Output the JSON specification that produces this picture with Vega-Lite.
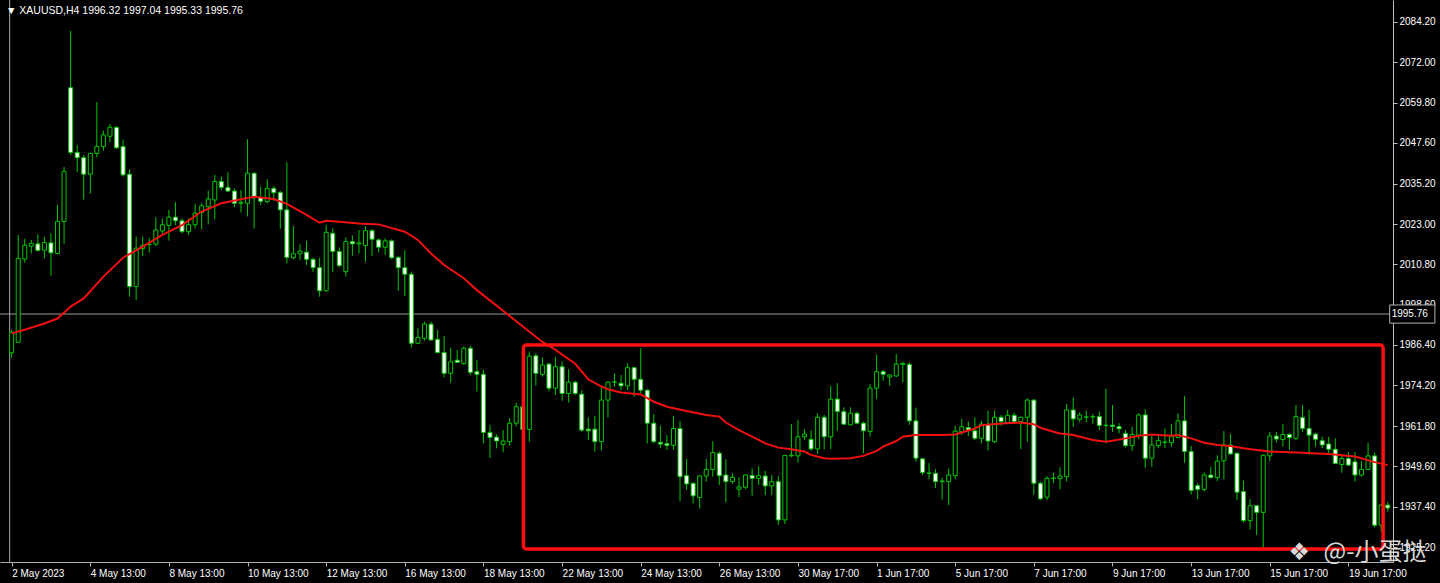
{
"$schema": "https://vega.github.io/schema/vega-lite/v6.json",
"width": 1393, "height": 562,
"autosize": {"type": "none"},
"padding": {"left": 0, "top": 0, "right": 47, "bottom": 21},
"background": "#000000",
"config": {"view": {"stroke": null}, "font": "Liberation Sans"},
"title": {"text": "▼ XAUUSD,H4  1996.32 1997.04 1995.33 1995.76", "anchor": "start", "frame": "group", "color": "#ffffff", "fontSize": 10.5, "fontWeight": "normal", "font": "Liberation Sans", "offset": 0, "dx": 6, "dy": 25, "baseline": "alphabetic"},
"datasets": {
"c": [
{"i":0,"o":1984.0,"h":1991.0,"l":1982.5,"c":1990.2},
{"i":1,"o":1987.2,"h":2019.7,"l":1987.0,"c":2012.6},
{"i":2,"o":2012.4,"h":2018.5,"l":2011.3,"c":2016.6},
{"i":3,"o":2016.3,"h":2018.2,"l":2014.1,"c":2017.1},
{"i":4,"o":2017.0,"h":2019.9,"l":2014.7,"c":2015.0},
{"i":5,"o":2015.1,"h":2019.1,"l":2012.6,"c":2017.4},
{"i":6,"o":2017.3,"h":2020.2,"l":2007.4,"c":2014.3},
{"i":7,"o":2014.1,"h":2028.8,"l":2013.8,"c":2023.8},
{"i":8,"o":2023.8,"h":2040.3,"l":2017.0,"c":2039.0},
{"i":9,"o":2064.3,"h":2081.5,"l":2043.9,"c":2044.7},
{"i":10,"o":2044.7,"h":2046.9,"l":2038.7,"c":2043.1},
{"i":11,"o":2043.1,"h":2043.9,"l":2030.4,"c":2038.1},
{"i":12,"o":2038.1,"h":2044.6,"l":2032.2,"c":2044.4},
{"i":13,"o":2044.4,"h":2059.9,"l":2043.2,"c":2046.5},
{"i":14,"o":2046.5,"h":2051.3,"l":2045.2,"c":2050.0},
{"i":15,"o":2049.6,"h":2053.3,"l":2047.8,"c":2052.3},
{"i":16,"o":2052.3,"h":2052.6,"l":2045.8,"c":2046.1},
{"i":17,"o":2046.5,"h":2048.6,"l":2037.4,"c":2037.9},
{"i":18,"o":2038.1,"h":2039.6,"l":2001.0,"c":2004.1},
{"i":19,"o":2004.1,"h":2019.2,"l":2000.0,"c":2015.7},
{"i":20,"o":2015.6,"h":2019.2,"l":2013.3,"c":2016.6},
{"i":21,"o":2016.8,"h":2018.8,"l":2014.4,"c":2016.9},
{"i":22,"o":2016.9,"h":2025.1,"l":2016.4,"c":2021.2},
{"i":23,"o":2020.9,"h":2024.6,"l":2020.0,"c":2022.8},
{"i":24,"o":2022.6,"h":2027.3,"l":2018.0,"c":2025.1},
{"i":25,"o":2025.1,"h":2029.6,"l":2022.7,"c":2024.0},
{"i":26,"o":2024.0,"h":2024.7,"l":2020.2,"c":2020.7},
{"i":27,"o":2020.7,"h":2024.7,"l":2019.7,"c":2022.8},
{"i":28,"o":2022.8,"h":2029.1,"l":2021.7,"c":2026.3},
{"i":29,"o":2026.5,"h":2029.3,"l":2021.4,"c":2028.5},
{"i":30,"o":2028.3,"h":2033.1,"l":2022.9,"c":2030.6},
{"i":31,"o":2030.3,"h":2037.9,"l":2024.4,"c":2035.9},
{"i":32,"o":2035.9,"h":2037.4,"l":2033.3,"c":2034.1},
{"i":33,"o":2034.1,"h":2038.7,"l":2032.8,"c":2033.0},
{"i":34,"o":2033.0,"h":2033.8,"l":2028.1,"c":2029.3},
{"i":35,"o":2029.3,"h":2033.3,"l":2026.5,"c":2029.6},
{"i":36,"o":2029.3,"h":2048.7,"l":2025.3,"c":2038.4},
{"i":37,"o":2038.4,"h":2038.6,"l":2021.6,"c":2031.0},
{"i":38,"o":2031.0,"h":2034.3,"l":2028.8,"c":2029.9},
{"i":39,"o":2029.8,"h":2036.6,"l":2029.3,"c":2033.8},
{"i":40,"o":2033.8,"h":2034.5,"l":2030.1,"c":2032.5},
{"i":41,"o":2032.6,"h":2033.0,"l":2021.6,"c":2027.3},
{"i":42,"o":2027.3,"h":2041.7,"l":2011.1,"c":2012.9},
{"i":43,"o":2012.8,"h":2022.4,"l":2012.3,"c":2014.0},
{"i":44,"o":2014.0,"h":2016.9,"l":2012.1,"c":2014.8},
{"i":45,"o":2014.5,"h":2017.9,"l":2010.6,"c":2012.3},
{"i":46,"o":2012.3,"h":2012.8,"l":2008.5,"c":2009.8},
{"i":47,"o":2009.8,"h":2012.8,"l":2001.0,"c":2002.8},
{"i":48,"o":2002.8,"h":2022.7,"l":2002.5,"c":2020.5},
{"i":49,"o":2020.2,"h":2021.7,"l":2008.4,"c":2014.7},
{"i":50,"o":2014.7,"h":2015.9,"l":2009.9,"c":2010.4},
{"i":51,"o":2008.6,"h":2019.0,"l":2007.1,"c":2017.7},
{"i":52,"o":2017.7,"h":2019.6,"l":2013.4,"c":2017.0},
{"i":53,"o":2017.0,"h":2021.2,"l":2014.1,"c":2017.3},
{"i":54,"o":2016.5,"h":2022.4,"l":2011.6,"c":2021.0},
{"i":55,"o":2021.0,"h":2021.5,"l":2013.4,"c":2018.4},
{"i":56,"o":2018.2,"h":2018.7,"l":2014.4,"c":2016.0},
{"i":57,"o":2016.0,"h":2018.7,"l":2013.6,"c":2017.9},
{"i":58,"o":2017.9,"h":2018.4,"l":2012.3,"c":2012.8},
{"i":59,"o":2012.9,"h":2013.3,"l":2002.8,"c":2009.8},
{"i":60,"o":2009.8,"h":2015.1,"l":2001.2,"c":2007.8},
{"i":61,"o":2007.8,"h":2008.6,"l":1985.6,"c":1986.9},
{"i":62,"o":1986.9,"h":1991.4,"l":1986.6,"c":1988.7},
{"i":63,"o":1988.4,"h":1993.4,"l":1987.7,"c":1992.7},
{"i":64,"o":1992.7,"h":1993.4,"l":1987.7,"c":1987.9},
{"i":65,"o":1988.1,"h":1990.9,"l":1983.9,"c":1984.1},
{"i":66,"o":1984.1,"h":1989.1,"l":1976.6,"c":1977.8},
{"i":67,"o":1977.8,"h":1985.6,"l":1975.0,"c":1981.3},
{"i":68,"o":1981.8,"h":1984.9,"l":1981.0,"c":1981.1},
{"i":69,"o":1980.8,"h":1985.9,"l":1980.3,"c":1985.4},
{"i":70,"o":1985.4,"h":1986.1,"l":1977.3,"c":1978.1},
{"i":71,"o":1978.3,"h":1981.8,"l":1972.3,"c":1977.5},
{"i":72,"o":1977.5,"h":1979.0,"l":1956.6,"c":1959.9},
{"i":73,"o":1959.9,"h":1962.2,"l":1952.1,"c":1958.4},
{"i":74,"o":1958.5,"h":1959.3,"l":1955.1,"c":1957.3},
{"i":75,"o":1956.3,"h":1960.6,"l":1953.9,"c":1957.3},
{"i":76,"o":1957.1,"h":1964.2,"l":1955.8,"c":1962.7},
{"i":77,"o":1962.7,"h":1968.9,"l":1961.7,"c":1967.7},
{"i":78,"o":1967.7,"h":1968.2,"l":1960.5,"c":1960.8},
{"i":79,"o":1960.8,"h":1984.4,"l":1957.1,"c":1983.0},
{"i":80,"o":1983.1,"h":1983.9,"l":1974.1,"c":1977.8},
{"i":81,"o":1977.5,"h":1982.6,"l":1976.8,"c":1980.3},
{"i":82,"o":1980.6,"h":1981.0,"l":1972.4,"c":1973.3},
{"i":83,"o":1973.3,"h":1982.8,"l":1971.2,"c":1979.8},
{"i":84,"o":1979.8,"h":1981.5,"l":1969.5,"c":1971.7},
{"i":85,"o":1971.7,"h":1979.1,"l":1968.9,"c":1975.1},
{"i":86,"o":1975.1,"h":1975.5,"l":1971.2,"c":1971.7},
{"i":87,"o":1971.5,"h":1972.7,"l":1960.1,"c":1960.6},
{"i":88,"o":1960.9,"h":1964.5,"l":1957.6,"c":1960.4},
{"i":89,"o":1960.9,"h":1964.9,"l":1954.1,"c":1957.1},
{"i":90,"o":1957.1,"h":1973.8,"l":1954.4,"c":1969.7},
{"i":91,"o":1969.7,"h":1975.3,"l":1964.4,"c":1975.1},
{"i":92,"o":1975.1,"h":1977.8,"l":1973.8,"c":1975.2},
{"i":93,"o":1974.8,"h":1977.3,"l":1972.7,"c":1974.0},
{"i":94,"o":1974.0,"h":1980.8,"l":1972.7,"c":1979.5},
{"i":95,"o":1979.5,"h":1979.8,"l":1970.7,"c":1976.0},
{"i":96,"o":1976.0,"h":1985.4,"l":1971.7,"c":1972.7},
{"i":97,"o":1972.7,"h":1972.9,"l":1956.6,"c":1962.7},
{"i":98,"o":1962.7,"h":1965.5,"l":1956.6,"c":1957.1},
{"i":99,"o":1956.9,"h":1961.9,"l":1955.1,"c":1956.4},
{"i":100,"o":1956.5,"h":1959.1,"l":1954.6,"c":1956.0},
{"i":101,"o":1956.0,"h":1964.9,"l":1954.6,"c":1961.1},
{"i":102,"o":1961.1,"h":1963.4,"l":1939.1,"c":1946.5},
{"i":103,"o":1946.8,"h":1951.9,"l":1942.5,"c":1944.3},
{"i":104,"o":1944.5,"h":1944.7,"l":1938.4,"c":1940.7},
{"i":105,"o":1940.2,"h":1947.0,"l":1936.9,"c":1946.7},
{"i":106,"o":1946.7,"h":1951.9,"l":1945.0,"c":1948.7},
{"i":107,"o":1948.7,"h":1957.3,"l":1946.5,"c":1953.8},
{"i":108,"o":1953.6,"h":1954.1,"l":1944.0,"c":1946.8},
{"i":109,"o":1947.0,"h":1951.8,"l":1938.7,"c":1945.0},
{"i":110,"o":1945.0,"h":1947.5,"l":1944.3,"c":1946.3},
{"i":111,"o":1942.7,"h":1946.3,"l":1940.3,"c":1943.4},
{"i":112,"o":1943.3,"h":1947.2,"l":1942.7,"c":1947.0},
{"i":113,"o":1946.9,"h":1949.0,"l":1940.7,"c":1946.0},
{"i":114,"o":1946.0,"h":1949.7,"l":1944.0,"c":1946.8},
{"i":115,"o":1946.7,"h":1948.3,"l":1940.9,"c":1943.7},
{"i":116,"o":1943.7,"h":1947.0,"l":1940.9,"c":1945.0},
{"i":117,"o":1945.0,"h":1946.7,"l":1931.9,"c":1933.4},
{"i":118,"o":1933.4,"h":1953.1,"l":1932.2,"c":1952.9},
{"i":119,"o":1952.8,"h":1962.4,"l":1952.4,"c":1953.0},
{"i":120,"o":1952.8,"h":1963.7,"l":1950.8,"c":1958.6},
{"i":121,"o":1958.6,"h":1960.9,"l":1957.6,"c":1959.4},
{"i":122,"o":1957.8,"h":1960.6,"l":1954.4,"c":1954.9},
{"i":123,"o":1954.9,"h":1965.7,"l":1953.4,"c":1964.5},
{"i":124,"o":1964.5,"h":1965.2,"l":1954.8,"c":1958.6},
{"i":125,"o":1958.6,"h":1974.0,"l":1954.9,"c":1970.0},
{"i":126,"o":1970.0,"h":1974.8,"l":1960.4,"c":1966.2},
{"i":127,"o":1966.2,"h":1967.5,"l":1962.2,"c":1962.4},
{"i":128,"o":1962.2,"h":1967.5,"l":1962.0,"c":1965.7},
{"i":129,"o":1965.7,"h":1966.2,"l":1962.4,"c":1962.7},
{"i":130,"o":1962.7,"h":1963.2,"l":1953.6,"c":1960.4},
{"i":131,"o":1960.2,"h":1974.5,"l":1958.6,"c":1973.3},
{"i":132,"o":1973.3,"h":1983.4,"l":1970.0,"c":1978.3},
{"i":133,"o":1978.3,"h":1978.8,"l":1975.5,"c":1977.5},
{"i":134,"o":1976.7,"h":1977.5,"l":1974.0,"c":1977.3},
{"i":135,"o":1977.0,"h":1983.6,"l":1976.7,"c":1980.6},
{"i":136,"o":1980.5,"h":1981.3,"l":1975.1,"c":1980.8},
{"i":137,"o":1980.5,"h":1981.1,"l":1962.2,"c":1963.4},
{"i":138,"o":1963.4,"h":1967.4,"l":1951.1,"c":1952.1},
{"i":139,"o":1951.9,"h":1952.1,"l":1947.0,"c":1947.8},
{"i":140,"o":1947.5,"h":1950.6,"l":1945.7,"c":1947.6},
{"i":141,"o":1947.5,"h":1948.8,"l":1943.0,"c":1945.0},
{"i":142,"o":1945.0,"h":1946.2,"l":1939.5,"c":1945.2},
{"i":143,"o":1945.0,"h":1949.0,"l":1937.9,"c":1947.0},
{"i":144,"o":1946.8,"h":1961.9,"l":1945.8,"c":1960.3},
{"i":145,"o":1960.1,"h":1964.0,"l":1959.1,"c":1961.6},
{"i":146,"o":1961.4,"h":1963.2,"l":1958.8,"c":1960.6},
{"i":147,"o":1960.4,"h":1964.5,"l":1957.6,"c":1958.1},
{"i":148,"o":1958.1,"h":1963.4,"l":1956.6,"c":1962.4},
{"i":149,"o":1962.4,"h":1966.5,"l":1954.4,"c":1957.3},
{"i":150,"o":1957.1,"h":1966.5,"l":1956.6,"c":1964.5},
{"i":151,"o":1964.5,"h":1965.2,"l":1961.9,"c":1963.2},
{"i":152,"o":1962.9,"h":1966.7,"l":1962.5,"c":1965.1},
{"i":153,"o":1965.1,"h":1965.9,"l":1962.5,"c":1963.2},
{"i":154,"o":1963.2,"h":1964.7,"l":1954.9,"c":1964.5},
{"i":155,"o":1964.5,"h":1970.2,"l":1957.1,"c":1969.7},
{"i":156,"o":1969.7,"h":1969.9,"l":1941.0,"c":1944.5},
{"i":157,"o":1944.5,"h":1945.0,"l":1939.4,"c":1939.8},
{"i":158,"o":1940.3,"h":1946.7,"l":1939.4,"c":1946.0},
{"i":159,"o":1946.0,"h":1947.7,"l":1944.5,"c":1946.1},
{"i":160,"o":1945.9,"h":1949.4,"l":1942.7,"c":1946.7},
{"i":161,"o":1946.5,"h":1968.5,"l":1945.0,"c":1966.7},
{"i":162,"o":1966.7,"h":1970.5,"l":1961.6,"c":1964.0},
{"i":163,"o":1963.9,"h":1966.0,"l":1963.0,"c":1965.2},
{"i":164,"o":1964.5,"h":1966.5,"l":1963.0,"c":1964.6},
{"i":165,"o":1964.6,"h":1965.5,"l":1962.4,"c":1964.7},
{"i":166,"o":1964.7,"h":1966.2,"l":1960.6,"c":1962.0},
{"i":167,"o":1962.0,"h":1973.1,"l":1956.6,"c":1962.1},
{"i":168,"o":1962.1,"h":1968.2,"l":1960.1,"c":1961.7},
{"i":169,"o":1961.7,"h":1962.7,"l":1959.6,"c":1961.0},
{"i":170,"o":1959.6,"h":1960.6,"l":1955.3,"c":1955.9},
{"i":171,"o":1955.9,"h":1961.6,"l":1954.3,"c":1959.3},
{"i":172,"o":1959.1,"h":1965.7,"l":1957.9,"c":1965.2},
{"i":173,"o":1965.2,"h":1967.0,"l":1949.2,"c":1952.1},
{"i":174,"o":1952.1,"h":1958.9,"l":1949.5,"c":1956.1},
{"i":175,"o":1955.9,"h":1958.9,"l":1955.1,"c":1957.4},
{"i":176,"o":1957.0,"h":1961.1,"l":1955.1,"c":1956.9},
{"i":177,"o":1956.8,"h":1962.4,"l":1955.6,"c":1958.6},
{"i":178,"o":1958.4,"h":1965.7,"l":1958.1,"c":1963.4},
{"i":179,"o":1963.4,"h":1970.9,"l":1950.7,"c":1954.1},
{"i":180,"o":1954.1,"h":1955.8,"l":1941.1,"c":1942.3},
{"i":181,"o":1943.8,"h":1944.5,"l":1939.7,"c":1942.6},
{"i":182,"o":1942.6,"h":1947.8,"l":1942.0,"c":1947.0},
{"i":183,"o":1947.0,"h":1949.5,"l":1946.0,"c":1946.2},
{"i":184,"o":1946.2,"h":1953.0,"l":1945.2,"c":1951.2},
{"i":185,"o":1951.3,"h":1960.3,"l":1945.7,"c":1956.1},
{"i":186,"o":1956.1,"h":1959.4,"l":1953.1,"c":1953.4},
{"i":187,"o":1953.6,"h":1953.8,"l":1939.4,"c":1941.8},
{"i":188,"o":1942.0,"h":1945.3,"l":1932.6,"c":1933.2},
{"i":189,"o":1933.2,"h":1939.7,"l":1930.5,"c":1937.7},
{"i":190,"o":1937.7,"h":1937.9,"l":1928.8,"c":1935.7},
{"i":191,"o":1935.7,"h":1953.2,"l":1925.0,"c":1953.0},
{"i":192,"o":1952.8,"h":1960.1,"l":1951.3,"c":1958.8},
{"i":193,"o":1958.8,"h":1960.1,"l":1956.8,"c":1957.9},
{"i":194,"o":1957.8,"h":1962.4,"l":1955.6,"c":1959.3},
{"i":195,"o":1959.3,"h":1959.6,"l":1954.6,"c":1958.3},
{"i":196,"o":1958.1,"h":1968.2,"l":1957.6,"c":1964.7},
{"i":197,"o":1964.4,"h":1968.2,"l":1960.1,"c":1961.1},
{"i":198,"o":1961.1,"h":1966.7,"l":1953.2,"c":1959.1},
{"i":199,"o":1959.4,"h":1959.8,"l":1955.6,"c":1957.8},
{"i":200,"o":1957.4,"h":1958.6,"l":1955.1,"c":1956.1},
{"i":201,"o":1956.4,"h":1958.6,"l":1953.6,"c":1954.8},
{"i":202,"o":1954.8,"h":1958.1,"l":1950.3,"c":1950.5},
{"i":203,"o":1950.2,"h":1953.4,"l":1947.7,"c":1952.0},
{"i":204,"o":1952.0,"h":1954.0,"l":1949.8,"c":1950.0},
{"i":205,"o":1951.0,"h":1953.9,"l":1945.0,"c":1947.0},
{"i":206,"o":1947.0,"h":1951.3,"l":1946.5,"c":1948.7},
{"i":207,"o":1948.7,"h":1956.8,"l":1948.5,"c":1952.8},
{"i":208,"o":1952.8,"h":1953.9,"l":1931.1,"c":1931.8},
{"i":209,"o":1931.8,"h":1938.4,"l":1929.8,"c":1937.9},
{"i":210,"o":1937.9,"h":1938.9,"l":1935.9,"c":1937.0}
],
"ma": [
{"i":0,"v":1989.9},{"i":2,"v":1991.0},{"i":5,"v":1992.9},{"i":7,"v":1994.4},{"i":9,"v":1998.0},{"i":11,"v":2000.5},{"i":14,"v":2007.1},{"i":17,"v":2012.8},{"i":20,"v":2016.2},{"i":23,"v":2019.7},{"i":26,"v":2022.7},{"i":29,"v":2026.8},{"i":32,"v":2029.3},{"i":35,"v":2030.5},{"i":37,"v":2031.3},{"i":40,"v":2030.6},{"i":42,"v":2029.1},{"i":45,"v":2025.8},{"i":47,"v":2023.4},{"i":48,"v":2024.0},{"i":50,"v":2023.7},{"i":53,"v":2023.2},{"i":56,"v":2022.9},{"i":60,"v":2020.7},{"i":62,"v":2018.2},{"i":64,"v":2014.1},{"i":66,"v":2010.6},{"i":69,"v":2006.6},{"i":71,"v":2003.0},{"i":81,"v":1987.3},{"i":83,"v":1984.9},{"i":86,"v":1980.7},{"i":88,"v":1976.0},{"i":90,"v":1973.8},{"i":91,"v":1973.0},{"i":93,"v":1972.0},{"i":96,"v":1971.4},{"i":98,"v":1969.2},{"i":100,"v":1967.7},{"i":103,"v":1966.4},{"i":106,"v":1965.2},{"i":108,"v":1964.7},{"i":109,"v":1962.9},{"i":111,"v":1960.6},{"i":113,"v":1958.6},{"i":115,"v":1956.6},{"i":117,"v":1955.3},{"i":119,"v":1954.8},{"i":121,"v":1954.1},{"i":122,"v":1953.1},{"i":124,"v":1952.1},{"i":125,"v":1951.9},{"i":128,"v":1952.1},{"i":130,"v":1952.8},{"i":132,"v":1954.3},{"i":133,"v":1955.6},{"i":135,"v":1957.3},{"i":136,"v":1958.6},{"i":138,"v":1959.1},{"i":142,"v":1959.1},{"i":144,"v":1959.3},{"i":147,"v":1961.1},{"i":148,"v":1962.1},{"i":151,"v":1962.6},{"i":154,"v":1962.9},{"i":156,"v":1962.4},{"i":157,"v":1961.3},{"i":159,"v":1960.1},{"i":160,"v":1959.6},{"i":162,"v":1959.1},{"i":165,"v":1957.6},{"i":167,"v":1957.1},{"i":168,"v":1957.4},{"i":170,"v":1958.1},{"i":172,"v":1958.9},{"i":174,"v":1959.3},{"i":177,"v":1958.9},{"i":178,"v":1959.1},{"i":180,"v":1958.1},{"i":182,"v":1956.8},{"i":184,"v":1956.1},{"i":186,"v":1955.8},{"i":188,"v":1955.1},{"i":190,"v":1954.6},{"i":192,"v":1954.1},{"i":196,"v":1953.8},{"i":201,"v":1953.4},{"i":205,"v":1952.6},{"i":208,"v":1950.9},{"i":210,"v":1950.0}
]
},
"layer": [
{
"data": {"name": "c"},
"mark": {"type": "rule", "color": "#00c800", "strokeWidth": 1, "clip": true},
"encoding": {
"x": {"field": "i", "type": "quantitative",
  "scale": {"domain": [-1.015, 210.045], "nice": false, "zero": false},
  "axis": {"values": [0,12,24,36,48,60,72,84,96,108,120,132,144,156,168,180,192,204],
    "labelExpr": "['2 May 2023','4 May 13:00','8 May 13:00','10 May 13:00','12 May 13:00','16 May 13:00','18 May 13:00','22 May 13:00','24 May 13:00','26 May 13:00','30 May 17:00','1 Jun 17:00','5 Jun 17:00','7 Jun 17:00','9 Jun 17:00','13 Jun 17:00','15 Jun 17:00','19 Jun 17:00'][round(datum.value/12)]",
    "labelAlign": "left", "labelDx": -1, "labelColor": "#ffffff", "labelFontSize": 10, "labelFont": "Liberation Sans",
    "tickColor": "#b0b0b0", "tickSize": 4, "domainColor": "#b0b0b0", "grid": false, "title": null,
    "labelPadding": 2, "labelFlush": false, "labelOverlap": false, "labelBound": false}},
"y": {"field": "l", "type": "quantitative",
  "scale": {"domain": [1920.66, 2090.86], "nice": false, "zero": false},
  "axis": {"orient": "right", "values": [2084.2,2072.0,2059.8,2047.6,2035.2,2023.0,2010.8,1998.6,1986.4,1974.2,1961.8,1949.6,1937.4,1925.2],
    "format": ".2f", "labelColor": "#ffffff", "labelFontSize": 10, "labelFont": "Liberation Sans",
    "tickSize": 4, "tickColor": "#c0c0c0", "domainColor": "#c0c0c0", "grid": false, "title": null,
    "labelPadding": 2, "labelOverlap": false, "labelBound": false, "labelFlush": false}},
"y2": {"field": "h"}
}
},
{
"data": {"values": [{}]},
"mark": {"type": "rule", "color": "#9a9a9a", "strokeWidth": 1},
"encoding": {"y": {"datum": 1995.76, "type": "quantitative"}}
},
{
"data": {"values": [{}]},
"mark": {"type": "rule", "color": "#a8a8a8", "strokeWidth": 1},
"encoding": {"x": {"datum": -0.303, "type": "quantitative"}}
},
{
"data": {"name": "c"},
"mark": {"type": "bar", "orient": "vertical", "size": 4, "stroke": "#00c800", "strokeWidth": 1, "clip": true},
"encoding": {
"x": {"field": "i", "type": "quantitative"},
"y": {"field": "o", "type": "quantitative"},
"y2": {"field": "c"},
"fill": {"condition": {"test": "datum.c < datum.o", "value": "#ffffff"}, "value": "#000000"}
}
},
{
"data": {"name": "ma"},
"mark": {"type": "line", "color": "#f01010", "strokeWidth": 2, "clip": true},
"encoding": {
"x": {"field": "i", "type": "quantitative"},
"y": {"field": "v", "type": "quantitative"}
}
},
{
"data": {"values": [{}]},
"mark": {"type": "rect", "filled": false, "stroke": "#ff1010", "strokeWidth": 3.5, "cornerRadius": 3},
"encoding": {
"x": {"datum": 78.1, "type": "quantitative"},
"x2": {"datum": 209.3},
"y": {"datum": 1986.4, "type": "quantitative"},
"y2": {"datum": 1924.6}
}
},
{
"data": {"values": [{}]},
"mark": {"type": "rect", "fill": "#000000", "stroke": "#b0b0b0", "strokeWidth": 1},
"encoding": {
"x": {"datum": 210.3, "type": "quantitative"},
"x2": {"datum": 217.2},
"y": {"datum": 1998.5, "type": "quantitative"},
"y2": {"datum": 1993.0}
}
},
{
"data": {"values": [{"t": "1995.76"}]},
"mark": {"type": "text", "align": "left", "baseline": "middle", "color": "#ffffff", "fontSize": 10, "font": "Liberation Sans", "dx": 2},
"encoding": {
"x": {"datum": 210.3, "type": "quantitative"},
"y": {"datum": 1995.76, "type": "quantitative"},
"text": {"field": "t"}
}
},
{
"data": {"values": [{"t": "❖"}]},
"mark": {"type": "text", "align": "center", "baseline": "middle", "color": "#d8d8d8", "fontSize": 24, "font": "DejaVu Sans"},
"encoding": {
"x": {"datum": 196.5, "type": "quantitative"},
"y": {"datum": 1923.3, "type": "quantitative"},
"text": {"field": "t"}
}
},
{
"data": {"values": [{"t": "@-小蛋挞"}]},
"mark": {"type": "text", "align": "left", "baseline": "middle", "color": "#d8d8d8", "fontSize": 24, "font": "Noto Sans CJK SC"},
"encoding": {
"x": {"datum": 200.2, "type": "quantitative"},
"y": {"datum": 1923.3, "type": "quantitative"},
"text": {"field": "t"}
}
}
]
}
